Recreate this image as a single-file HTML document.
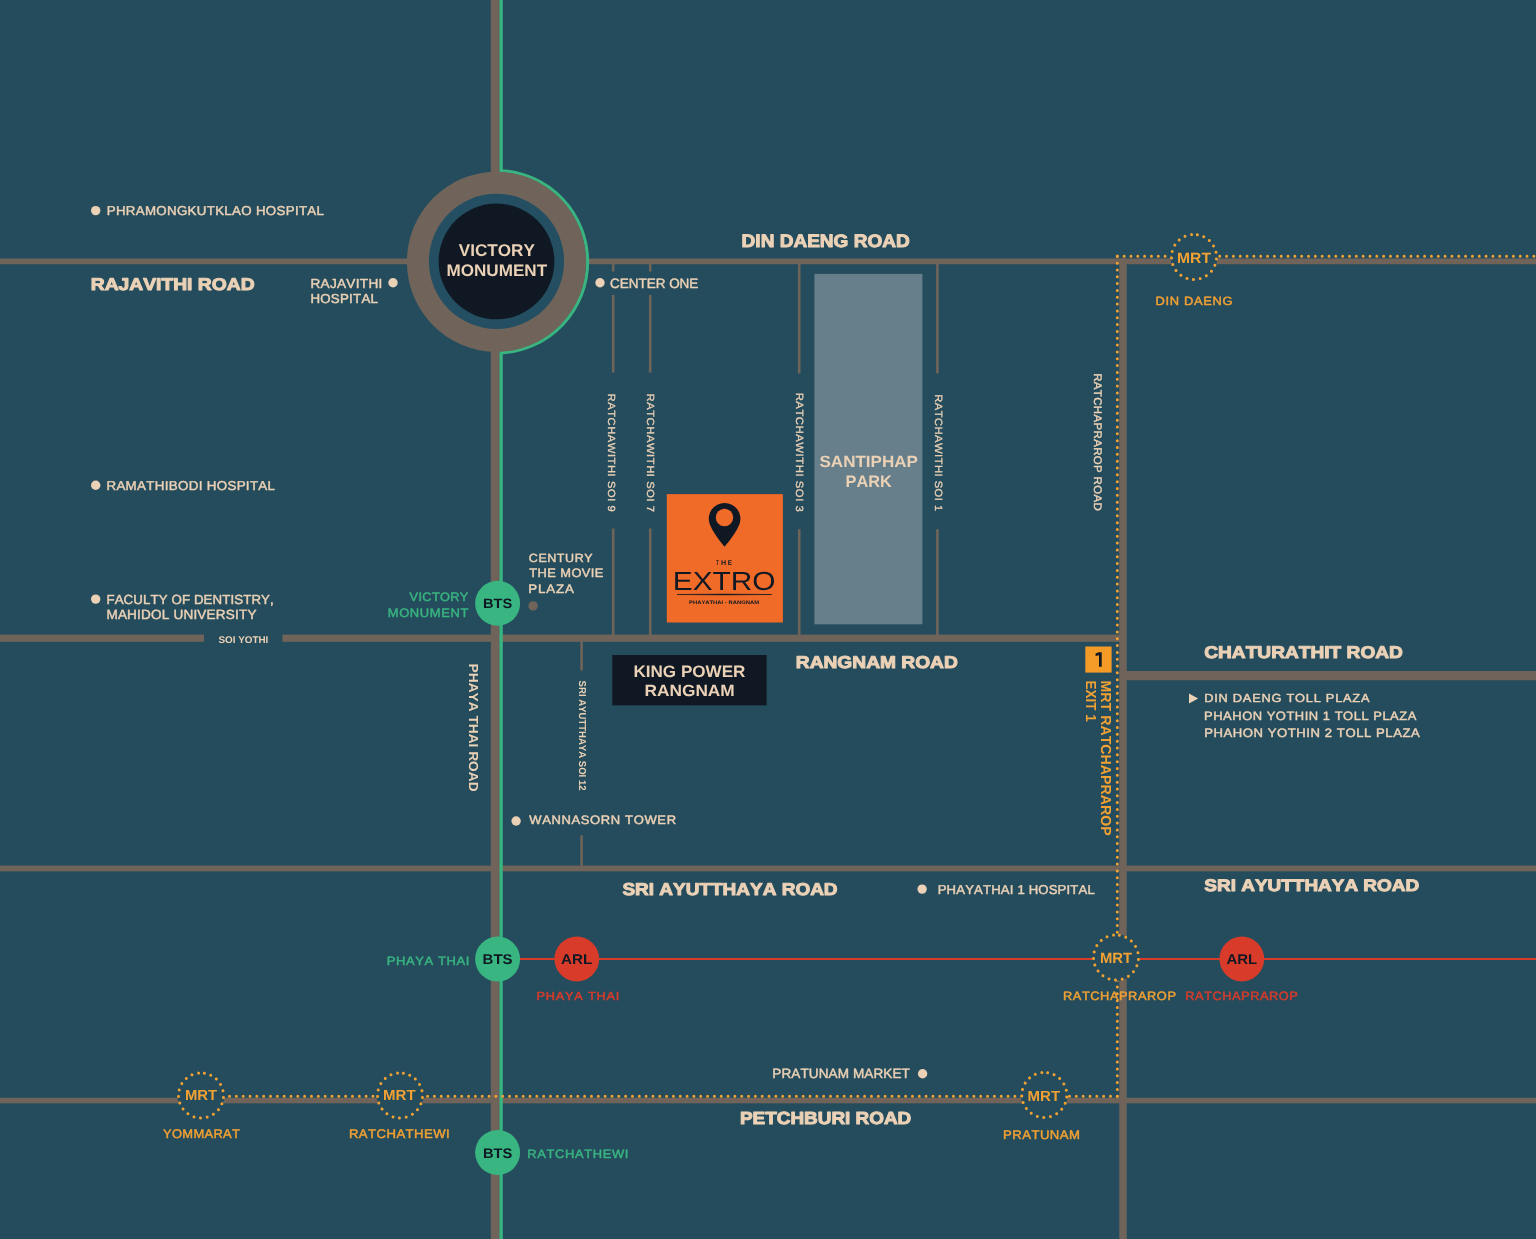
<!DOCTYPE html>
<html><head><meta charset="utf-8"><style>
html,body{margin:0;padding:0;background:#254c5c;width:1536px;height:1239px;overflow:hidden}
svg{display:block;will-change:transform}
text{font-family:"Liberation Sans",sans-serif;font-kerning:none;text-rendering:geometricPrecision}
</style></head><body>
<svg width="1536" height="1239" viewBox="0 0 1536 1239">
<rect x="0.00" y="0.00" width="1536.00" height="1239.00" fill="#254c5c"/>
<rect x="0.00" y="258.50" width="1536.00" height="5.70" fill="#70645a"/>
<rect x="0.00" y="634.60" width="204.00" height="7.20" fill="#70645a"/>
<rect x="282.40" y="634.60" width="840.60" height="7.20" fill="#70645a"/>
<rect x="1123.00" y="671.00" width="413.00" height="9.20" fill="#70645a"/>
<rect x="0.00" y="865.60" width="1536.00" height="5.70" fill="#70645a"/>
<rect x="0.00" y="1097.80" width="1536.00" height="5.50" fill="#70645a"/>
<rect x="490.80" y="0.00" width="8.80" height="1239.00" fill="#70645a"/>
<rect x="1119.30" y="258.50" width="7.40" height="980.50" fill="#70645a"/>
<rect x="611.90" y="264.00" width="2.60" height="7.50" fill="#70645a"/>
<rect x="611.90" y="295.00" width="2.60" height="77.50" fill="#70645a"/>
<rect x="611.90" y="528.50" width="2.60" height="106.50" fill="#70645a"/>
<rect x="648.90" y="264.00" width="2.60" height="7.50" fill="#70645a"/>
<rect x="648.90" y="295.00" width="2.60" height="77.50" fill="#70645a"/>
<rect x="648.90" y="528.50" width="2.60" height="106.50" fill="#70645a"/>
<rect x="797.90" y="264.00" width="2.60" height="109.50" fill="#70645a"/>
<rect x="797.90" y="529.20" width="2.60" height="105.80" fill="#70645a"/>
<rect x="936.10" y="264.00" width="2.60" height="109.50" fill="#70645a"/>
<rect x="936.10" y="529.20" width="2.60" height="105.80" fill="#70645a"/>
<rect x="580.30" y="641.00" width="2.60" height="29.40" fill="#70645a"/>
<rect x="580.30" y="835.30" width="2.60" height="30.70" fill="#70645a"/>
<rect x="814.40" y="273.90" width="108.00" height="350.40" fill="#667f8b"/>
<path d="M501.10 0V170.82A91.10 91.10 0 0 1 501.10 352.78V1239" stroke="#38b581" stroke-width="3.3" fill="none"/>
<rect x="519.00" y="958.00" width="1017.00" height="2.00" fill="#d93b2b"/>
<path d="M1117.30 256.30L1540.00 256.30" stroke="#f2a133" stroke-width="3" stroke-linecap="round" stroke-dasharray="0 6.829" fill="none"/>
<path d="M1117.30 256.30L1117.30 1096.30" stroke="#f2a133" stroke-width="3" stroke-linecap="round" stroke-dasharray="0 6.829" fill="none"/>
<path d="M1117.30 1096.30L205.00 1096.30" stroke="#f2a133" stroke-width="3" stroke-linecap="round" stroke-dasharray="0 6.829" fill="none"/>
<ellipse cx="496.50" cy="261.80" rx="89.6" ry="90.1" fill="#70645a"/>
<circle cx="496.50" cy="261.40" r="67.60" fill="#244f62"/>
<circle cx="496.50" cy="261.40" r="57.90" fill="#101923"/>
<circle cx="497.60" cy="603.30" r="22.50" fill="#38b581"/>
<circle cx="497.60" cy="959.10" r="22.50" fill="#38b581"/>
<circle cx="497.60" cy="1152.50" r="22.50" fill="#38b581"/>
<circle cx="576.80" cy="959.00" r="22.40" fill="#d93b2b"/>
<circle cx="1241.80" cy="959.00" r="22.40" fill="#d93b2b"/>
<circle cx="1194.00" cy="257.00" r="23.50" fill="#254c5c"/>
<circle cx="1194.00" cy="257.00" r="22.50" fill="none" stroke="#f2a133" stroke-width="3" stroke-linecap="round" stroke-dasharray="0 6.7320" transform="rotate(-81.43 1194.00 257.00)"/>
<circle cx="1116.00" cy="957.50" r="23.50" fill="#254c5c"/>
<circle cx="1116.00" cy="957.50" r="22.50" fill="none" stroke="#f2a133" stroke-width="3" stroke-linecap="round" stroke-dasharray="0 6.7320" transform="rotate(-81.43 1116.00 957.50)"/>
<circle cx="201.00" cy="1095.50" r="23.50" fill="#254c5c"/>
<circle cx="201.00" cy="1095.50" r="22.50" fill="none" stroke="#f2a133" stroke-width="3" stroke-linecap="round" stroke-dasharray="0 6.7320" transform="rotate(-81.43 201.00 1095.50)"/>
<circle cx="400.00" cy="1095.50" r="23.50" fill="#254c5c"/>
<circle cx="400.00" cy="1095.50" r="22.50" fill="none" stroke="#f2a133" stroke-width="3" stroke-linecap="round" stroke-dasharray="0 6.7320" transform="rotate(-81.43 400.00 1095.50)"/>
<circle cx="1044.30" cy="1095.00" r="23.50" fill="#254c5c"/>
<circle cx="1044.30" cy="1095.00" r="22.50" fill="none" stroke="#f2a133" stroke-width="3" stroke-linecap="round" stroke-dasharray="0 6.7320" transform="rotate(-81.43 1044.30 1095.00)"/>
<rect x="666.80" y="494.10" width="116.10" height="128.40" fill="#f06a28"/>
<rect x="612.30" y="655.00" width="154.30" height="50.40" fill="#101923"/>
<rect x="1085.30" y="646.50" width="26.30" height="26.10" fill="#f39b26"/>
<path d="M724.5 546.8Q712.9 532.9 709.7 524A15.8 15.8 0 1 1 739.5 524Q736.3 532.9 724.5 546.8Z" fill="#101923"/>
<circle cx="724.50" cy="517.50" r="8.70" fill="#f06a28"/>
<path d="M677 594.5Q724.4 593.7 771.7 594.5Q724.4 595.3 677 594.5Z" fill="#101923" stroke="#101923" stroke-width="0.6"/>
<circle cx="95.70" cy="210.60" r="4.70" fill="#ebd1b6"/>
<circle cx="95.70" cy="485.30" r="4.70" fill="#ebd1b6"/>
<circle cx="95.70" cy="599.10" r="4.70" fill="#ebd1b6"/>
<circle cx="393.00" cy="282.80" r="4.70" fill="#ebd1b6"/>
<circle cx="600.00" cy="282.80" r="4.70" fill="#ebd1b6"/>
<circle cx="516.10" cy="821.00" r="4.70" fill="#ebd1b6"/>
<circle cx="922.10" cy="889.10" r="4.70" fill="#ebd1b6"/>
<circle cx="922.60" cy="1073.80" r="4.70" fill="#ebd1b6"/>
<circle cx="533.10" cy="605.90" r="4.70" fill="#70645a"/>
<path d="M1189 693.4L1198.2 698.45L1189 703.5Z" fill="#ebd1b6"/>
<text transform="scale(1.0345 1)" x="103.18" y="215.08" font-size="12.86" textLength="209.95" lengthAdjust="spacing" fill="#ebd1b6" stroke="#ebd1b6" stroke-width="0.45" stroke-linejoin="round">PHRAMONGKUTKLAO HOSPITAL</text>
<text x="90.71" y="290.10" font-size="17.01" textLength="163.90" lengthAdjust="spacingAndGlyphs" fill="#ebd1b6" font-weight="bold" stroke="#ebd1b6" stroke-width="1.00" stroke-linejoin="round">RAJAVITHI ROAD</text>
<text transform="scale(1.0348 1)" x="299.97" y="287.57" font-size="13.15" textLength="69.50" lengthAdjust="spacing" fill="#ebd1b6" stroke="#ebd1b6" stroke-width="0.45" stroke-linejoin="round">RAJAVITHI</text>
<text transform="scale(1.0244 1)" x="303.03" y="303.07" font-size="13.01" textLength="65.88" lengthAdjust="spacing" fill="#ebd1b6" stroke="#ebd1b6" stroke-width="0.45" stroke-linejoin="round">HOSPITAL</text>
<text x="458.88" y="256.20" font-size="17.01" textLength="75.99" lengthAdjust="spacingAndGlyphs" fill="#ebd1b6" font-weight="bold">VICTORY</text>
<text x="446.46" y="275.90" font-size="16.72" textLength="100.63" lengthAdjust="spacingAndGlyphs" fill="#ebd1b6" font-weight="bold">MONUMENT</text>
<text x="741.63" y="246.50" font-size="18.02" textLength="168.07" lengthAdjust="spacingAndGlyphs" fill="#ebd1b6" font-weight="bold" stroke="#ebd1b6" stroke-width="1.00" stroke-linejoin="round">DIN DAENG ROAD</text>
<text transform="scale(0.9956 1)" x="612.75" y="287.67" font-size="13.59" textLength="88.71" lengthAdjust="spacing" fill="#ebd1b6" stroke="#ebd1b6" stroke-width="0.45" stroke-linejoin="round">CENTER ONE</text>
<text x="1177.05" y="262.60" font-size="14.97" textLength="33.92" lengthAdjust="spacingAndGlyphs" fill="#f2a133" font-weight="bold">MRT</text>
<text transform="scale(1.0773 1)" x="1072.60" y="304.77" font-size="11.99" textLength="71.63" lengthAdjust="spacing" fill="#f2a133" stroke="#f2a133" stroke-width="0.45" stroke-linejoin="round">DIN DAENG</text>
<text transform="translate(607.85 0) rotate(90) scale(1.0830 1)" x="363.36" y="0" font-size="10.32" textLength="109.18" lengthAdjust="spacing" fill="#ebd1b6" stroke="#ebd1b6" stroke-width="0.30" stroke-linejoin="round">RATCHAWITHI SOI 9</text>
<text transform="translate(646.85 0) rotate(90) scale(1.0846 1)" x="362.84" y="0" font-size="10.32" textLength="109.33" lengthAdjust="spacing" fill="#ebd1b6" stroke="#ebd1b6" stroke-width="0.30" stroke-linejoin="round">RATCHAWITHI SOI 7</text>
<text transform="translate(795.75 0) rotate(90) scale(1.0799 1)" x="363.58" y="0" font-size="10.47" textLength="110.40" lengthAdjust="spacing" fill="#ebd1b6" stroke="#ebd1b6" stroke-width="0.30" stroke-linejoin="round">RATCHAWITHI SOI 3</text>
<text transform="translate(934.85 0) rotate(90) scale(1.0696 1)" x="368.59" y="0" font-size="10.47" textLength="109.36" lengthAdjust="spacing" fill="#ebd1b6" stroke="#ebd1b6" stroke-width="0.30" stroke-linejoin="round">RATCHAWITHI SOI 1</text>
<text transform="translate(1093.80 0) rotate(90) scale(1.0413 1)" x="358.37" y="0" font-size="11.05" textLength="132.24" lengthAdjust="spacing" fill="#ebd1b6" stroke="#ebd1b6" stroke-width="0.40" stroke-linejoin="round">RATCHAPRAROP ROAD</text>
<text x="819.51" y="467.30" font-size="16.28" textLength="98.37" lengthAdjust="spacingAndGlyphs" fill="#ebd1b6" font-weight="bold">SANTIPHAP</text>
<text x="845.51" y="486.90" font-size="16.72" textLength="46.24" lengthAdjust="spacingAndGlyphs" fill="#ebd1b6" font-weight="bold">PARK</text>
<text transform="scale(1.0380 1)" x="102.54" y="489.97" font-size="12.86" textLength="162.42" lengthAdjust="spacing" fill="#ebd1b6" stroke="#ebd1b6" stroke-width="0.45" stroke-linejoin="round">RAMATHIBODI HOSPITAL</text>
<text transform="scale(1.0111 1)" x="105.27" y="603.67" font-size="13.15" textLength="165.50" lengthAdjust="spacing" fill="#ebd1b6" stroke="#ebd1b6" stroke-width="0.45" stroke-linejoin="round">FACULTY OF DENTISTRY,</text>
<text transform="scale(1.0206 1)" x="104.27" y="619.17" font-size="13.30" textLength="147.04" lengthAdjust="spacing" fill="#ebd1b6" stroke="#ebd1b6" stroke-width="0.45" stroke-linejoin="round">MAHIDOL UNIVERSITY</text>
<text x="218.42" y="643.30" font-size="9.74" textLength="49.95" lengthAdjust="spacingAndGlyphs" fill="#ebd1b6" font-weight="bold">SOI YOTHI</text>
<text transform="scale(1.0378 1)" x="394.65" y="601.48" font-size="12.28" textLength="56.64" lengthAdjust="spacing" fill="#38b581" stroke="#38b581" stroke-width="0.45" stroke-linejoin="round">VICTORY</text>
<text transform="scale(1.0563 1)" x="367.10" y="617.07" font-size="12.28" textLength="76.32" lengthAdjust="spacing" fill="#38b581" stroke="#38b581" stroke-width="0.45" stroke-linejoin="round">MONUMENT</text>
<text x="482.92" y="608.30" font-size="13.52" textLength="29.25" lengthAdjust="spacingAndGlyphs" fill="#101923" font-weight="bold">BTS</text>
<text transform="scale(1.0557 1)" x="500.91" y="561.67" font-size="11.85" textLength="60.40" lengthAdjust="spacing" fill="#ebd1b6" stroke="#ebd1b6" stroke-width="0.45" stroke-linejoin="round">CENTURY</text>
<text transform="scale(1.0490 1)" x="504.44" y="577.27" font-size="12.28" textLength="70.83" lengthAdjust="spacing" fill="#ebd1b6" stroke="#ebd1b6" stroke-width="0.45" stroke-linejoin="round">THE MOVIE</text>
<text transform="scale(1.0821 1)" x="488.27" y="592.88" font-size="12.28" textLength="42.02" lengthAdjust="spacing" fill="#ebd1b6" stroke="#ebd1b6" stroke-width="0.45" stroke-linejoin="round">PLAZA</text>
<text x="716.15" y="565.40" font-size="6.83" textLength="2.49" lengthAdjust="spacingAndGlyphs" fill="#101923" font-weight="bold">T</text>
<text x="720.92" y="565.40" font-size="6.83" textLength="5.16" lengthAdjust="spacingAndGlyphs" fill="#101923" font-weight="bold">H</text>
<text x="727.77" y="565.40" font-size="6.83" textLength="4.28" lengthAdjust="spacingAndGlyphs" fill="#101923" font-weight="bold">E</text>
<text x="672.75" y="590.30" font-size="26.31" textLength="102.78" lengthAdjust="spacingAndGlyphs" fill="#101923" style="font-weight:300">EXTRO</text>
<text x="689.01" y="603.90" font-size="4.94" textLength="70.09" lengthAdjust="spacingAndGlyphs" fill="#101923" font-weight="bold">PHAYATHAI - RANGNAM</text>
<text x="633.46" y="676.90" font-size="16.57" textLength="111.99" lengthAdjust="spacingAndGlyphs" fill="#ebd1b6" font-weight="bold">KING POWER</text>
<text x="644.54" y="696.00" font-size="16.28" textLength="90.21" lengthAdjust="spacingAndGlyphs" fill="#ebd1b6" font-weight="bold">RANGNAM</text>
<text x="795.82" y="667.80" font-size="17.15" textLength="161.99" lengthAdjust="spacingAndGlyphs" fill="#ebd1b6" font-weight="bold" stroke="#ebd1b6" stroke-width="1.00" stroke-linejoin="round">RANGNAM ROAD</text>
<path d="M1095.6 653.4L1098.9 652.3H1101.7V666.8H1099V655.3L1095.6 656Z" fill="#101923"/>
<text transform="translate(1101.10 0) rotate(90)" x="680.55" y="0" font-size="14.54" textLength="155.13" lengthAdjust="spacingAndGlyphs" fill="#f2a133" font-weight="bold">MRT RATCHAPRAROP</text>
<text transform="translate(1085.60 0) rotate(90)" x="680.60" y="0" font-size="14.54" textLength="41.28" lengthAdjust="spacingAndGlyphs" fill="#f2a133" font-weight="bold">EXIT 1</text>
<text x="1204.22" y="658.20" font-size="17.01" textLength="198.69" lengthAdjust="spacingAndGlyphs" fill="#ebd1b6" font-weight="bold" stroke="#ebd1b6" stroke-width="1.00" stroke-linejoin="round">CHATURATHIT ROAD</text>
<text transform="scale(1.0952 1)" x="1099.54" y="702.48" font-size="11.70" textLength="150.87" lengthAdjust="spacing" fill="#ebd1b6" stroke="#ebd1b6" stroke-width="0.45" stroke-linejoin="round">DIN DAENG TOLL PLAZA</text>
<text transform="scale(1.0660 1)" x="1129.56" y="719.77" font-size="12.14" textLength="199.09" lengthAdjust="spacing" fill="#ebd1b6" stroke="#ebd1b6" stroke-width="0.45" stroke-linejoin="round">PHAHON YOTHIN 1 TOLL PLAZA</text>
<text transform="scale(1.0682 1)" x="1127.25" y="736.77" font-size="12.28" textLength="201.88" lengthAdjust="spacing" fill="#ebd1b6" stroke="#ebd1b6" stroke-width="0.45" stroke-linejoin="round">PHAHON YOTHIN 2 TOLL PLAZA</text>
<text transform="translate(469.10 0) rotate(90)" x="663.58" y="0" font-size="13.08" textLength="127.99" lengthAdjust="spacingAndGlyphs" fill="#ebd1b6" font-weight="bold">PHAYA THAI ROAD</text>
<text transform="translate(579.00 0) rotate(90)" x="680.62" y="0" font-size="10.03" textLength="109.96" lengthAdjust="spacingAndGlyphs" fill="#ebd1b6" font-weight="bold">SRI AYUTTHAYA SOI 12</text>
<text transform="scale(1.0615 1)" x="498.59" y="824.48" font-size="12.28" textLength="138.30" lengthAdjust="spacing" fill="#ebd1b6" stroke="#ebd1b6" stroke-width="0.45" stroke-linejoin="round">WANNASORN TOWER</text>
<text x="622.45" y="894.90" font-size="17.15" textLength="215.14" lengthAdjust="spacingAndGlyphs" fill="#ebd1b6" font-weight="bold" stroke="#ebd1b6" stroke-width="1.00" stroke-linejoin="round">SRI AYUTTHAYA ROAD</text>
<text transform="scale(1.0205 1)" x="918.87" y="893.88" font-size="12.86" textLength="153.90" lengthAdjust="spacing" fill="#ebd1b6" stroke="#ebd1b6" stroke-width="0.45" stroke-linejoin="round">PHAYATHAI 1 HOSPITAL</text>
<text x="1204.35" y="891.40" font-size="16.72" textLength="214.84" lengthAdjust="spacingAndGlyphs" fill="#ebd1b6" font-weight="bold" stroke="#ebd1b6" stroke-width="1.00" stroke-linejoin="round">SRI AYUTTHAYA ROAD</text>
<text transform="scale(1.0710 1)" x="361.11" y="964.57" font-size="12.14" textLength="77.14" lengthAdjust="spacing" fill="#38b581" stroke="#38b581" stroke-width="0.45" stroke-linejoin="round">PHAYA THAI</text>
<text x="482.60" y="964.30" font-size="14.10" textLength="29.99" lengthAdjust="spacingAndGlyphs" fill="#101923" font-weight="bold">BTS</text>
<text x="561.02" y="964.30" font-size="14.10" textLength="31.35" lengthAdjust="spacingAndGlyphs" fill="#101923" font-weight="bold">ARL</text>
<text transform="scale(1.0915 1)" x="491.61" y="999.77" font-size="11.70" textLength="75.75" lengthAdjust="spacing" fill="#d93b2b" stroke="#d93b2b" stroke-width="0.45" stroke-linejoin="round">PHAYA THAI</text>
<text x="1100.01" y="963.10" font-size="14.83" textLength="32.15" lengthAdjust="spacingAndGlyphs" fill="#f2a133" font-weight="bold">MRT</text>
<text x="1226.43" y="964.30" font-size="14.10" textLength="30.84" lengthAdjust="spacingAndGlyphs" fill="#101923" font-weight="bold">ARL</text>
<text transform="scale(1.0573 1)" x="1005.37" y="1000.07" font-size="12.14" textLength="106.86" lengthAdjust="spacing" fill="#f2a133" stroke="#f2a133" stroke-width="0.45" stroke-linejoin="round">RATCHAPRAROP</text>
<text transform="scale(1.0549 1)" x="1123.66" y="1000.07" font-size="12.14" textLength="106.62" lengthAdjust="spacing" fill="#d93b2b" stroke="#d93b2b" stroke-width="0.45" stroke-linejoin="round">RATCHAPRAROP</text>
<text transform="scale(1.0088 1)" x="765.60" y="1077.68" font-size="13.44" textLength="136.38" lengthAdjust="spacing" fill="#ebd1b6" stroke="#ebd1b6" stroke-width="0.45" stroke-linejoin="round">PRATUNAM MARKET</text>
<text x="1027.59" y="1100.80" font-size="14.68" textLength="32.57" lengthAdjust="spacingAndGlyphs" fill="#f2a133" font-weight="bold">MRT</text>
<text transform="scale(1.0461 1)" x="958.73" y="1139.08" font-size="12.57" textLength="73.71" lengthAdjust="spacing" fill="#f2a133" stroke="#f2a133" stroke-width="0.45" stroke-linejoin="round">PRATUNAM</text>
<text x="739.93" y="1124.40" font-size="17.44" textLength="171.36" lengthAdjust="spacingAndGlyphs" fill="#ebd1b6" font-weight="bold" stroke="#ebd1b6" stroke-width="1.00" stroke-linejoin="round">PETCHBURI ROAD</text>
<text x="184.90" y="1100.40" font-size="14.68" textLength="32.26" lengthAdjust="spacingAndGlyphs" fill="#f2a133" font-weight="bold">MRT</text>
<text transform="scale(1.0285 1)" x="158.52" y="1138.48" font-size="12.57" textLength="74.70" lengthAdjust="spacing" fill="#f2a133" stroke="#f2a133" stroke-width="0.45" stroke-linejoin="round">YOMMARAT</text>
<text x="383.10" y="1100.40" font-size="14.68" textLength="32.46" lengthAdjust="spacingAndGlyphs" fill="#f2a133" font-weight="bold">MRT</text>
<text transform="scale(1.0459 1)" x="333.65" y="1138.48" font-size="12.57" textLength="96.32" lengthAdjust="spacing" fill="#f2a133" stroke="#f2a133" stroke-width="0.45" stroke-linejoin="round">RATCHATHEWI</text>
<text x="483.02" y="1157.70" font-size="13.95" textLength="29.36" lengthAdjust="spacingAndGlyphs" fill="#101923" font-weight="bold">BTS</text>
<text transform="scale(1.0661 1)" x="494.66" y="1158.48" font-size="12.14" textLength="94.74" lengthAdjust="spacing" fill="#38b581" stroke="#38b581" stroke-width="0.45" stroke-linejoin="round">RATCHATHEWI</text>
</svg>
</body></html>
